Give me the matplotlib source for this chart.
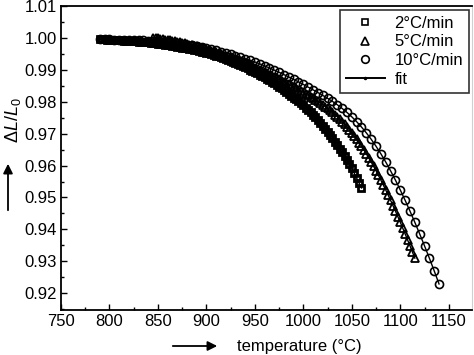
import matplotlib
matplotlib.use('Agg')
import matplotlib.pyplot as plt
from matplotlib.lines import Line2D

plt.rcParams['font.family'] = 'Liberation Sans'
plt.rcParams['mathtext.fontset'] = 'custom'
plt.rcParams['mathtext.rm'] = 'Liberation Sans'
plt.rcParams['mathtext.it'] = 'Liberation Sans:italic'

# 2°C/min (squares)
t_2 = [790, 792.5, 795, 797.5, 800, 802.5, 805, 807.5, 810, 812.5,
       815, 817.5, 820, 822.5, 825, 827.5, 830, 832.5, 835, 837.5,
       840, 842.5, 845, 847.5, 850, 852.5, 855, 857.5, 860, 862.5,
       865, 867.5, 870, 872.5, 875, 877.5, 880, 882.5, 885, 887.5,
       890, 892.5, 895, 897.5, 900, 902.5, 905, 907.5, 910, 912.5,
       915, 917.5, 920, 922.5, 925, 927.5, 930, 932.5, 935, 937.5,
       940, 942.5, 945, 947.5, 950, 952.5, 955, 957.5, 960, 962.5,
       965, 967.5, 970, 972.5, 975, 977.5, 980, 982.5, 985, 987.5,
       990, 992.5, 995, 997.5, 1000, 1002.5, 1005, 1007.5, 1010, 1012.5,
       1015, 1017.5, 1020, 1022.5, 1025, 1027.5, 1030, 1032.5, 1035, 1037.5,
       1040, 1042.5, 1045, 1047.5, 1050, 1052.5, 1055, 1057.5, 1060]
v_2 = [.99950, .99946, .99943, .99939, .99935, .99931, .99927, .99922, .99918, .99914,
       .99909, .99905, .99900, .99895, .99889, .99884, .99878, .99871, .99864, .99857,
       .99850, .99840, .99830, .99820, .99810, .99800, .99789, .99779, .99768, .99756,
       .99744, .99732, .99720, .99706, .99692, .99678, .99664, .99648, .99632, .99616,
       .99600, .99582, .99564, .99546, .99528, .99506, .99483, .99461, .99438, .99413,
       .99388, .99363, .99338, .99308, .99278, .99248, .99218, .99183, .99148, .99113,
       .99078, .99041, .99003, .98966, .98928, .98886, .98843, .98801, .98758, .98711,
       .98663, .98616, .98568, .98516, .98463, .98411, .98358, .98301, .98243, .98186,
       .98128, .98066, .98003, .97941, .97878, .97806, .97733, .97661, .97588, .97503,
       .97418, .97333, .97248, .97151, .97053, .96956, .96858, .96748, .96638, .96528,
       .96418, .96293, .96168, .96043, .95918, .95763, .95608, .95453, .95298]

# 5°C/min (triangles)
t_5 = [845, 847.5, 850, 852.5, 855, 857.5, 860, 862.5, 865, 867.5,
       870, 872.5, 875, 877.5, 880, 882.5, 885, 887.5, 890, 892.5,
       895, 897.5, 900, 902.5, 905, 907.5, 910, 912.5, 915, 917.5,
       920, 922.5, 925, 927.5, 930, 932.5, 935, 937.5, 940, 942.5,
       945, 947.5, 950, 952.5, 955, 957.5, 960, 962.5, 965, 967.5,
       970, 972.5, 975, 977.5, 980, 982.5, 985, 987.5, 990, 992.5,
       995, 997.5, 1000, 1002.5, 1005, 1007.5, 1010, 1012.5, 1015, 1017.5,
       1020, 1022.5, 1025, 1027.5, 1030, 1032.5, 1035, 1037.5, 1040, 1042.5,
       1045, 1047.5, 1050, 1052.5, 1055, 1057.5, 1060, 1062.5, 1065, 1067.5,
       1070, 1072.5, 1075, 1077.5, 1080, 1082.5, 1085, 1087.5, 1090, 1092.5,
       1095, 1097.5, 1100, 1102.5, 1105, 1107.5, 1110, 1112.5, 1115]
v_5 = [1.00000, .99989, .99978, .99966, .99954, .99941, .99928, .99914, .99900, .99885,
       .99870, .99853, .99836, .99819, .99801, .99783, .99764, .99745, .99725, .99705,
       .99684, .99662, .99640, .99617, .99594, .99570, .99546, .99521, .99495, .99469,
       .99442, .99415, .99387, .99359, .99330, .99300, .99270, .99237, .99204, .99170,
       .99135, .99100, .99064, .99028, .98991, .98953, .98915, .98879, .98843, .98806,
       .98769, .98731, .98693, .98654, .98615, .98575, .98535, .98494, .98453, .98411,
       .98369, .98326, .98283, .98239, .98194, .98148, .98102, .98055, .98007, .97955,
       .97902, .97845, .97787, .97724, .97661, .97592, .97523, .97447, .97371, .97288,
       .97204, .97113, .97021, .96921, .96821, .96712, .96603, .96485, .96366, .96238,
       .96110, .95973, .95835, .95689, .95543, .95389, .95235, .95074, .94912, .94744,
       .94575, .94400, .94225, .94044, .93863, .93676, .93489, .93296, .93103]

# 10°C/min (circles)
t_10 = [790, 795, 800, 805, 810, 815, 820, 825, 830, 835,
        840, 845, 850, 855, 860, 865, 870, 875, 880, 885,
        890, 895, 900, 905, 910, 915, 920, 925, 930, 935,
        940, 945, 950, 955, 960, 965, 970, 975, 980, 985,
        990, 995, 1000, 1005, 1010, 1015, 1020, 1025, 1030, 1035,
        1040, 1045, 1050, 1055, 1060, 1065, 1070, 1075, 1080, 1085,
        1090, 1095, 1100, 1105, 1110, 1115, 1120, 1125, 1130, 1135, 1140]
v_10 = [.99950, .99948, .99945, .99942, .99938, .99934, .99930, .99925, .99919, .99912,
        .99905, .99896, .99886, .99874, .99860, .99844, .99826, .99806, .99784, .99760,
        .99733, .99704, .99673, .99640, .99605, .99567, .99527, .99485, .99440, .99393,
        .99344, .99293, .99240, .99180, .99117, .99052, .98985, .98915, .98843, .98769,
        .98693, .98615, .98535, .98453, .98369, .98283, .98194, .98102, .98007, .97902,
        .97787, .97661, .97523, .97371, .97204, .97021, .96821, .96603, .96366, .96110,
        .95835, .95543, .95235, .94912, .94575, .94225, .93863, .93489, .93103, .92705, .92295]

labels = ['2°C/min', '5°C/min', '10°C/min', 'fit']

fig = plt.figure(figsize=(4.74, 3.55), dpi=100)
ax = fig.add_axes([61/474, 1-310/355, 411/474, 304.3/355])

# data
ax.plot(t_2, v_2, ls='none', marker='s', ms=4.6, mfc='none', mec='black', mew=2.0)
ax.plot(t_5, v_5, ls='none', marker='^', ms=5.6, mfc='none', mec='black', mew=1.3)
ax.plot(t_10, v_10, ls='none', marker='o', ms=5.8, mfc='none', mec='black', mew=1.2)
# fit lines
for t, v in [(t_2, v_2), (t_5, v_5), (t_10, v_10)]:
    ax.plot(t, v, color='black', lw=1.0)

ax.set_xlim(750, 1174)
ax.set_ylim(0.9148, 1.01)
ax.set_xticks(range(750, 1151, 50))
ax.set_xticks(range(775, 1151, 50), minor=True)
yt = [0.92, 0.93, 0.94, 0.95, 0.96, 0.97, 0.98, 0.99, 1.00, 1.01]
ax.set_yticks(yt)
ax.set_yticklabels(['%.2f' % y for y in yt])
ax.set_yticks([0.915 + 0.01 * i for i in range(10)], minor=True)
ax.tick_params(which='both', direction='in', top=False, right=False,
               labelsize=12, width=1.0, colors='black')
ax.tick_params(which='major', length=4, pad=3)
ax.tick_params(which='minor', length=2.5)
for s in ['left', 'bottom', 'top']:
    ax.spines[s].set_linewidth(1.3)
ax.spines['right'].set_color('#d0d0d0')

handles = [
    Line2D([], [], ls='none', marker='s', ms=5, mfc='none', mec='black', mew=1.2),
    Line2D([], [], ls='none', marker='^', ms=5.5, mfc='none', mec='black', mew=1.2),
    Line2D([], [], ls='none', marker='o', ms=5.5, mfc='none', mec='black', mew=1.2),
    Line2D([], [], color='black', lw=1.4, marker='.', ms=3),
]
leg = ax.legend(handles, labels, loc='upper right', bbox_to_anchor=(0.9927, 0.986),
                borderaxespad=0, fontsize=12, frameon=True, fancybox=False,
                handlelength=2.3, handletextpad=0.6, labelspacing=0.22,
                borderpad=0.35, markerscale=1.0, numpoints=1)
leg.get_frame().set_edgecolor('black')
leg.get_frame().set_linewidth(1.2)

# axis labels with arrows
fig.text(13/474, 1-120/355, r'$\Delta L/L_0$', rotation=90, ha='center', va='center',
         fontsize=13)
fig.add_artist(plt.Annotation('', xy=(8/474, 1-161/355), xytext=(8/474, 1-213/355),
               xycoords='figure fraction', textcoords='figure fraction',
               arrowprops=dict(arrowstyle='-|>', color='black', lw=1.3,
                               mutation_scale=14)))
fig.text(237/474, 1-346/355, 'temperature (°C)', ha='left', va='center', fontsize=12)
fig.add_artist(plt.Annotation('', xy=(220/474, 1-346/355), xytext=(170/474, 1-346/355),
               xycoords='figure fraction', textcoords='figure fraction',
               arrowprops=dict(arrowstyle='-|>', color='black', lw=1.3,
                               mutation_scale=14)))

fig.savefig('out.png', dpi=100)
